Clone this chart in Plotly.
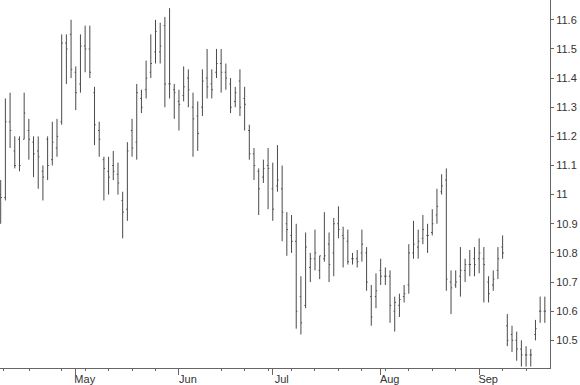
import plotly.graph_objects as go

# Trading-day index for each bar
bar_index = list(range(117))

high = [11.05, 11.33, 11.35, 11.20, 11.20, 11.35, 11.26, 11.20, 11.20, 11.10,
        11.20, 11.25, 11.26, 11.55, 11.55, 11.60, 11.44, 11.55, 11.58, 11.58,
        11.37, 11.25, 11.13, 11.13, 11.15, 11.11, 11.01, 11.18, 11.26, 11.38,
        11.36, 11.46, 11.55, 11.60, 11.59, 11.61, 11.64, 11.38, 11.36, 11.44,
        11.43, 11.35, 11.32, 11.43, 11.50, 11.43, 11.50, 11.50, 11.45, 11.40,
        11.37, 11.43, 11.37, 11.24, 11.16, 11.09, 11.12, 11.16, 11.11, 11.17,
        11.10, 10.94, 10.93, 10.90, 10.72, 10.87, 10.80, 10.88, 10.79, 10.94,
        10.87, 10.92, 10.96, 10.89, 10.88, 10.80, 10.81, 10.88, 10.82, 10.69,
        10.73, 10.78, 10.75, 10.74, 10.65, 10.66, 10.69, 10.83, 10.91, 10.88,
        10.93, 10.90, 10.95, 11.02, 11.07, 11.09, 10.74, 10.74, 10.82, 10.78,
        10.81, 10.82, 10.85, 10.82, 10.72, 10.74, 10.82, 10.86, 10.59, 10.55,
        10.53, 10.50, 10.48, 10.47, 10.57, 10.65, 10.65]

low = [10.90, 10.98, 11.16, 11.09, 11.08, 11.19, 11.12, 11.06, 11.02, 10.98,
       11.05, 11.10, 11.13, 11.24, 11.38, 11.40, 11.29, 11.35, 11.42, 11.40,
       11.17, 11.13, 10.98, 11.00, 11.05, 11.00, 10.85, 10.91, 11.13, 11.12,
       11.28, 11.33, 11.40, 11.45, 11.45, 11.30, 11.33, 11.26, 11.22, 11.32,
       11.30, 11.13, 11.15, 11.27, 11.33, 11.33, 11.40, 11.35, 11.36, 11.28,
       11.30, 11.27, 11.22, 11.12, 11.05, 10.93, 11.04, 10.95, 10.91, 11.01,
       10.84, 10.79, 10.80, 10.54, 10.52, 10.61, 10.70, 10.74, 10.71, 10.77,
       10.70, 10.72, 10.85, 10.75, 10.76, 10.76, 10.75, 10.77, 10.67, 10.55,
       10.61, 10.69, 10.69, 10.56, 10.53, 10.58, 10.63, 10.66, 10.78, 10.78,
       10.83, 10.80, 10.86, 10.90, 11.00, 10.67, 10.59, 10.68, 10.65, 10.70,
       10.72, 10.72, 10.73, 10.63, 10.63, 10.67, 10.71, 10.78, 10.48, 10.46,
       10.43, 10.41, 10.41, 10.41, 10.50, 10.56, 10.56]

open_ = [11.00, 10.99, 11.25, 11.15, 11.19, 11.19, 11.22, 11.18, 11.15, 11.08,
         11.19, 11.12, 11.16, 11.25, 11.52, 11.55, 11.42, 11.38, 11.51, 11.50,
         11.35, 11.22, 11.12, 11.08, 11.10, 11.07, 10.98, 10.95, 11.22, 11.18,
         11.33, 11.36, 11.42, 11.49, 11.49, 11.58, 11.38, 11.36, 11.32, 11.34,
         11.40, 11.30, 11.27, 11.30, 11.40, 11.38, 11.42, 11.45, 11.42, 11.38,
         11.32, 11.39, 11.33, 11.22, 11.14, 11.08, 11.06, 11.10, 11.02, 11.03,
         11.02, 10.90, 10.86, 10.84, 10.65, 10.62, 10.75, 10.78, 10.74, 10.78,
         10.83, 10.80, 10.90, 10.86, 10.84, 10.78, 10.78, 10.80, 10.80, 10.65,
         10.65, 10.74, 10.72, 10.72, 10.60, 10.62, 10.65, 10.69, 10.80, 10.82,
         10.85, 10.86, 10.87, 10.93, 11.01, 11.05, 10.70, 10.69, 10.72, 10.74,
         10.76, 10.78, 10.78, 10.78, 10.70, 10.69, 10.74, 10.82, 10.55, 10.52,
         10.50, 10.47, 10.45, 10.45, 10.52, 10.60, 10.60]

close = [10.99, 11.25, 11.22, 11.10, 11.10, 11.28, 11.19, 11.14, 11.13, 11.06,
         11.10, 11.18, 11.20, 11.52, 11.50, 11.43, 11.35, 11.51, 11.50, 11.42,
         11.24, 11.19, 11.09, 11.06, 11.08, 11.04, 10.94, 11.15, 11.16, 11.35,
         11.30, 11.40, 11.45, 11.56, 11.51, 11.38, 11.38, 11.35, 11.31, 11.37,
         11.36, 11.26, 11.21, 11.39, 11.37, 11.36, 11.45, 11.42, 11.40, 11.30,
         11.35, 11.30, 11.31, 11.14, 11.10, 11.02, 11.09, 11.09, 10.95, 11.05,
         10.94, 10.88, 10.84, 10.60, 10.56, 10.82, 10.78, 10.80, 10.79, 10.79,
         10.76, 10.90, 10.88, 10.85, 10.77, 10.78, 10.77, 10.83, 10.70, 10.58,
         10.67, 10.72, 10.72, 10.62, 10.63, 10.64, 10.66, 10.80, 10.83, 10.84,
         10.88, 10.86, 10.90, 10.96, 11.03, 10.71, 10.68, 10.70, 10.74, 10.76,
         10.76, 10.76, 10.80, 10.76, 10.66, 10.71, 10.78, 10.80, 10.50, 10.50,
         10.47, 10.45, 10.45, 10.45, 10.54, 10.60, 10.60]

# Axis labelling
month_pos = [16, 38, 58, 81, 102]
month_labels = ["May", "Jun", "Jul", "Aug", "Sep"]
week_pos = [0.7, 6.1, 13, 18, 23, 28, 33, 47, 52, 57, 62, 67, 72, 77, 82, 87, 92, 97, 107, 112]
y_ticks = [10.5, 10.6, 10.7, 10.8, 10.9, 11.0, 11.1, 11.2, 11.3, 11.4, 11.5, 11.6]
y_labels = ["10.5", "10.6", "10.7", "10.8", "10.9", "11", "11.1", "11.2", "11.3", "11.4", "11.5", "11.6"]

bar_color = "#4a4a4a"
axis_color = "#666666"

fig = go.Figure(go.Ohlc(
    x=bar_index, open=open_, high=high, low=low, close=close,
    increasing=dict(line=dict(color=bar_color, width=1)),
    decreasing=dict(line=dict(color=bar_color, width=1)),
    tickwidth=0.25,
    hoverinfo="skip",
))

fig.update_layout(
    width=580, height=385,
    margin=dict(l=0, r=30, t=0, b=14),
    paper_bgcolor="white", plot_bgcolor="white",
    showlegend=False,
    font=dict(family="Liberation Sans, Arial, sans-serif", size=11, color="#333333"),
)

fig.update_xaxes(
    range=[-0.15, 117.1],
    rangeslider_visible=False,
    showgrid=False, zeroline=False,
    showline=True, linecolor=axis_color, linewidth=1,
    tickmode="array", tickvals=month_pos, ticktext=month_labels,
    ticks="outside", ticklen=6, tickcolor=axis_color, tickwidth=1,
    ticklabelshift=9, ticklabelstandoff=-5,
    minor=dict(tickmode="array", tickvals=week_pos, ticks="outside", ticklen=2,
               tickcolor=axis_color, tickwidth=1, showgrid=False),
    tickfont=dict(size=11, color="#333333"),
)

fig.update_yaxes(
    side="right",
    range=[10.405, 11.668],
    showgrid=False, zeroline=False,
    showline=True, linecolor=axis_color, linewidth=1,
    tickmode="array", tickvals=y_ticks, ticktext=y_labels,
    ticks="outside", ticklen=3, tickcolor=axis_color, tickwidth=1,
    tickfont=dict(size=11, color="#333333"),
)

fig.write_html("out.html")
